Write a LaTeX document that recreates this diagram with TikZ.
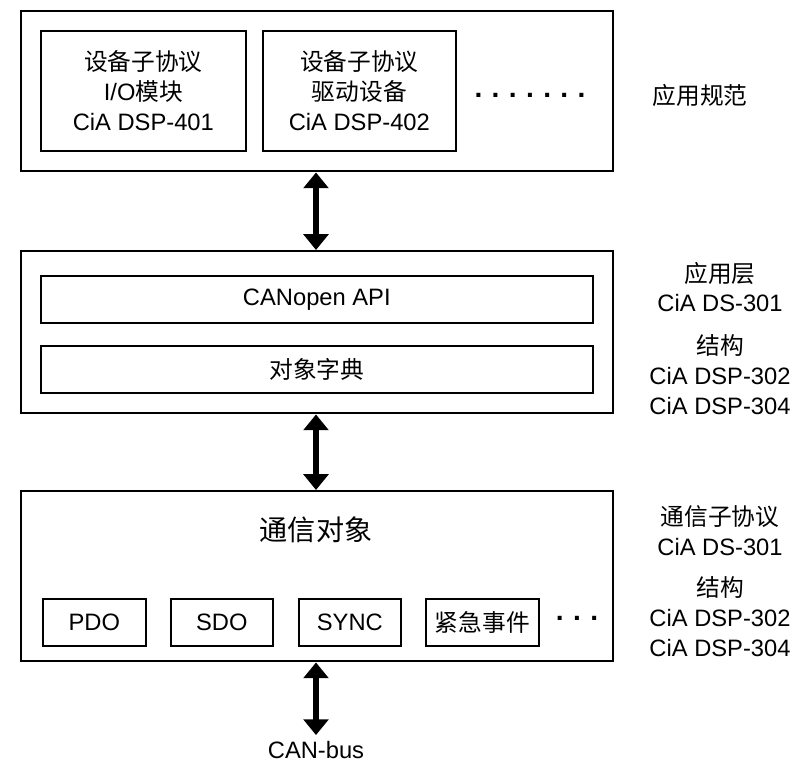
\documentclass[tikz,border=0pt]{standalone}
\usepackage{fontspec}
\setmainfont{Liberation Sans}
\newfontfamily\cjk{Noto Sans CJK SC}
\usetikzlibrary{arrows.meta}
\begin{document}
\begin{tikzpicture}[x=0.02cm,y=-0.02cm,
  outer/.style={draw,line width=1.4pt,minimum width=11.84cm,minimum height=3.2cm,anchor=north west,inner sep=0},
  inner/.style={draw,line width=1pt,anchor=north west,inner sep=0,align=center,font=\fontsize{13.5}{17}\selectfont},
  lbl/.style={align=center,font=\fontsize{13.5}{17}\selectfont},
  dbl/.style={{Triangle[width=14pt,length=9pt]}-{Triangle[width=14pt,length=9pt]},line width=3pt}]
\useasboundingbox (0,0) rectangle (811,777);
% top
\node[outer] (top) at (20,10) {};
\node[inner,minimum width=4.1cm,minimum height=2.4cm] (p401) at (40,30) {{\cjk 设备子协议}\\I/O{\cjk 模块}\\CiA DSP-401};
\node[inner,minimum width=3.86cm,minimum height=2.4cm] (p402) at (262,30) {{\cjk 设备子协议}\\{\cjk 驱动设备}\\CiA DSP-402};
\node[lbl,font=\fontsize{16}{17}\selectfont\bfseries] (d1) at (530,95) {.\,\,.\,\,.\,\,.\,\,.\,\,.\,\,.};
\node[lbl] (r1) at (700,95) {\cjk 应用规范};
% middle
\node[outer,minimum height=3.24cm] (mid) at (20,250) {};
\node[inner,minimum width=11.04cm,minimum height=0.94cm] (api) at (40,275) {CANopen API};
\node[inner,minimum width=11.04cm,minimum height=0.94cm] (dict) at (40,345) {\cjk 对象字典};
\node[lbl] (r2) at (720,287) {{\cjk 应用层}\\CiA DS-301};
\node[lbl] (r3) at (720,375) {{\cjk 结构}\\CiA DSP-302\\CiA DSP-304};
% bottom
\node[outer,minimum height=3.4cm] (bot) at (20,490) {};
\node[lbl,font=\fontsize{16}{18}\selectfont] (com) at (316,530) {\cjk 通信对象};
\node[inner,minimum width=2.06cm,minimum height=0.94cm] (pdo) at (42,598) {PDO};
\node[inner,minimum width=2.04cm,minimum height=0.94cm] (sdo) at (170,598) {SDO};
\node[inner,minimum width=2.04cm,minimum height=0.94cm] (sync) at (298,598) {SYNC};
\node[inner,minimum width=2.26cm,minimum height=0.94cm] (emcy) at (425,598) {\cjk 紧急事件};
\node[lbl,font=\fontsize{16}{17}\selectfont\bfseries] (d2) at (577,618) {.\,\,.\,\,.};
\node[lbl] (r4) at (720,531) {{\cjk 通信子协议}\\CiA DS-301};
\node[lbl] (r5) at (720,617) {{\cjk 结构}\\CiA DSP-302\\CiA DSP-304};
\node[lbl] (bus) at (316,750) {CAN-bus};
% arrows
\draw[dbl] (top.south -| 316,0) -- (mid.north -| 316,0);
\draw[dbl] (mid.south -| 316,0) -- (bot.north -| 316,0);
\draw[dbl] (bot.south -| 316,0) -- (bus.north);
\end{tikzpicture}
\end{document}
